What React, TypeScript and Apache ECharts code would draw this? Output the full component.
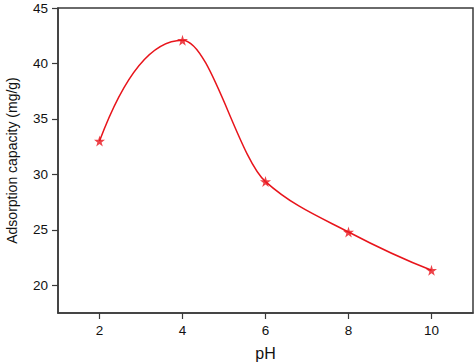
import React, { useEffect, useRef } from "react";
import * as echarts from "echarts";

const phValues = [2, 4, 6, 8, 10];
const capacity = [33.0, 42.1, 29.35, 24.8, 21.35];
const xTicks = [2, 4, 6, 8, 10];
const yTicks = [20, 25, 30, 35, 40, 45];

const STAR =
  "path://M50,0 L61,35 L98,35 L68,57 L79,91 L50,70 L21,91 L32,57 L2,35 L39,35 Z";
const RED = "#e8141b";

// Monotone cubic (PCHIP) tangents, used only to shape the connecting curve.
function pchipSlopes(xs: number[], ys: number[]): number[] {
  const n = xs.length;
  const h: number[] = [];
  const s: number[] = [];
  for (let i = 0; i < n - 1; i++) {
    h.push(xs[i + 1] - xs[i]);
    s.push((ys[i + 1] - ys[i]) / h[i]);
  }
  const m: number[] = new Array(n).fill(0);
  for (let i = 1; i < n - 1; i++) {
    if (s[i - 1] * s[i] <= 0) m[i] = 0;
    else {
      const w1 = 2 * h[i] + h[i - 1];
      const w2 = h[i] + 2 * h[i - 1];
      m[i] = (w1 + w2) / (w1 / s[i - 1] + w2 / s[i]);
    }
  }
  const endSlope = (h0: number, h1: number, s0: number, s1: number) => {
    let d = ((2 * h0 + h1) * s0 - h0 * s1) / (h0 + h1);
    if (Math.sign(d) !== Math.sign(s0)) d = 0;
    else if (Math.sign(s0) !== Math.sign(s1) && Math.abs(d) > Math.abs(3 * s0)) d = 3 * s0;
    return d;
  };
  m[0] = endSlope(h[0], h[1], s[0], s[1]);
  m[n - 1] = endSlope(h[n - 2], h[n - 3], s[n - 2], s[n - 3]);
  return m;
}

export default function App() {
  const ref = useRef<HTMLDivElement>(null);
  useEffect(() => {
    if (!ref.current) return;
    const chart = echarts.init(ref.current, undefined, { renderer: "svg" });
    const axisColor = "#3a3a3a";
    const slopes = pchipSlopes(phValues, capacity);
    const points = phValues.map((x, i) => [x, capacity[i]]);
    chart.setOption({
      animation: false,
      backgroundColor: "#ffffff",
      grid: {
        left: 58,
        right: 1,
        top: 8,
        bottom: 49,
        outerBoundsMode: "none",
        containLabel: false,
        show: true,
        borderColor: axisColor,
        borderWidth: 1.5,
        backgroundColor: "transparent",
      },
      xAxis: {
        type: "value",
        min: 1,
        max: 11,
        interval: 1,
        name: "pH",
        nameLocation: "middle",
        nameGap: 32,
        nameTextStyle: { fontFamily: "Liberation Sans", fontSize: 16, color: "#111" },
        axisLine: { show: true, onZero: false, lineStyle: { color: axisColor, width: 1.5 } },
        axisTick: {
          show: true,
          length: 6,
          lineStyle: { color: axisColor, width: 1.2 },
          customValues: xTicks,
        },
        axisLabel: {
          fontFamily: "Liberation Sans",
          fontSize: 13.5,
          color: "#111",
          margin: 10,
          customValues: xTicks,
        },
        splitLine: { show: false },
      },
      yAxis: {
        type: "value",
        min: 17.5,
        max: 45,
        name: "Adsorption capacity (mg/g)",
        nameLocation: "middle",
        nameGap: 39,
        nameTextStyle: { fontFamily: "Liberation Sans", fontSize: 14, color: "#111" },
        axisLine: { show: true, onZero: false, lineStyle: { color: axisColor, width: 1.5 } },
        axisTick: {
          show: true,
          length: 6,
          lineStyle: { color: axisColor, width: 1.2 },
          customValues: yTicks,
        },
        axisLabel: {
          fontFamily: "Liberation Sans",
          fontSize: 13.5,
          color: "#111",
          margin: 10,
          customValues: yTicks,
        },
        splitLine: { show: false },
      },
      series: [
        {
          type: "custom",
          data: points,
          encode: { x: 0, y: 1 },
          renderItem: (params: any, api: any) => {
            const i = params.dataIndex;
            if (i >= phValues.length - 1) return null;
            const x0 = phValues[i];
            const x1 = phValues[i + 1];
            const y0 = capacity[i];
            const y1 = capacity[i + 1];
            const h = x1 - x0;
            const p0 = api.coord([x0, y0]);
            const c1 = api.coord([x0 + h / 3, y0 + (slopes[i] * h) / 3]);
            const c2 = api.coord([x1 - h / 3, y1 - (slopes[i + 1] * h) / 3]);
            const p1 = api.coord([x1, y1]);
            return {
              type: "bezierCurve",
              shape: {
                x1: p0[0],
                y1: p0[1],
                x2: p1[0],
                y2: p1[1],
                cpx1: c1[0],
                cpy1: c1[1],
                cpx2: c2[0],
                cpy2: c2[1],
              },
              style: { stroke: RED, lineWidth: 1.5, fill: null },
              silent: true,
            };
          },
          z: 2,
        },
        {
          type: "scatter",
          data: points,
          symbol: STAR,
          symbolSize: 11,
          itemStyle: { color: RED },
          z: 3,
        },
      ],
    });
    return () => chart.dispose();
  }, []);
  return <div ref={ref} style={{ width: 474, height: 362, position: "absolute", left: 0, top: 0 }} />;
}
